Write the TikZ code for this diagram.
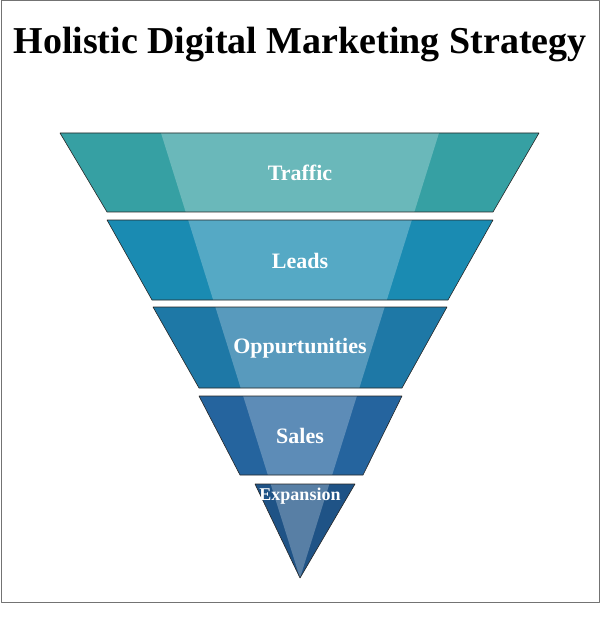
\documentclass[tikz,border=0pt]{standalone}
\usepackage{fontspec}
\setmainfont{Liberation Serif}
\definecolor{trafficc}{HTML}{36A0A3}
\definecolor{leadsc}{HTML}{1A8BB2}
\definecolor{oppc}{HTML}{1E78A6}
\definecolor{salesc}{HTML}{25649E}
\definecolor{expc}{HTML}{1F5386}
\begin{document}
\begin{tikzpicture}[x=1pt,y=-1pt,line join=bevel]
  \tikzstyle{band}=[draw=black!85,line width=0.6pt]
  \tikzstyle{stage}=[text=white,anchor=base,font=\bfseries\fontsize{22}{26}\selectfont]
  \useasboundingbox (0,0) rectangle (600,620);
  \draw[black!55,line width=1pt] (1,1) rectangle (599,602);
  \node[anchor=base] (title) at (300,54) {\bfseries\fontsize{38}{44}\selectfont Holistic Digital Marketing Strategy};

  % funnel bands: top left/right, top y, bottom left/right, bottom y, colour
  \foreach \tl/\tr/\ty/\bl/\br/\by/\col in {
      60/539/133/107/493/212/trafficc,
      107/493/220/152/448/300/leadsc,
      153/447/307/199/402/388/oppc,
      199/402/396/240/363/475/salesc,
      255/355/484/300/300/578/expc}{
    \fill[\col] (\tl,\ty) -- (\tr,\ty) -- (\br,\by) -- (\bl,\by) -- cycle;
    \begin{scope}
      \clip (\tl,\ty) -- (\tr,\ty) -- (\br,\by) -- (\bl,\by) -- cycle;
      \fill[white,opacity=0.26] (161,133) -- (439,133) -- (300,578) -- cycle;
    \end{scope}
    \draw[band] (\tl,\ty) -- (\tr,\ty) -- (\br,\by) -- (\bl,\by) -- cycle;
  }

  \node[stage] (traffic) at (300,181) {Traffic};
  \node[stage] (leads)   at (300,268) {Leads};
  \node[stage] (opp)     at (300,353) {Oppurtunities};
  \node[stage] (sales)   at (300,443) {Sales};
  \node[stage,font=\bfseries\fontsize{18}{22}\selectfont] (exp) at (300,500) {Expansion};
\end{tikzpicture}
\end{document}
